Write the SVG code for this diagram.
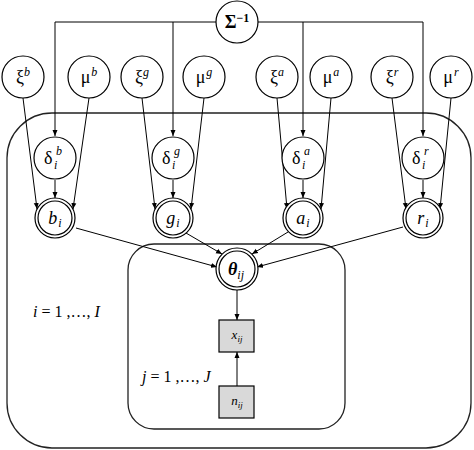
<svg xmlns="http://www.w3.org/2000/svg" width="474" height="450" viewBox="0 0 474 450" font-family="'Liberation Serif', 'DejaVu Serif', serif">
<style>
.c{fill:#fff;stroke:#000;stroke-width:1.2}
.p{fill:none;stroke:#222;stroke-width:1.3}
.l{fill:none;stroke:#000;stroke-width:1}
.b{fill:#d9d9d9;stroke:#000;stroke-width:1.2}
text{font-family:'Liberation Serif','DejaVu Serif',serif;fill:#000}
.g{font-size:18px}
.s{font-size:12px;font-style:italic}
.it{font-style:italic;font-size:18px}
</style>
<defs>
<marker id="a" markerUnits="userSpaceOnUse" markerWidth="6" markerHeight="6" refX="6" refY="3" orient="auto"><path d="M0,0.5 L6,3 L0,5.5 z" fill="#000"/></marker>
</defs>
<g id="plates">
<rect id="plate-i" class="p" x="7" y="113" width="464" height="335" rx="45" ry="45"/>
<rect id="plate-j" class="p" x="128" y="244" width="217" height="185" rx="26" ry="26"/>
<text x="33" y="317" font-size="16"><tspan font-style="italic">i</tspan> = 1 ,…, <tspan font-style="italic">I</tspan></text>
<text x="142" y="382" font-size="16"><tspan font-style="italic">j</tspan> = 1 ,…, <tspan font-style="italic">J</tspan></text>
</g>
<g id="connectors">
<path class="l" d="M55,22 H216 M258,22 H423"/>
<path class="l" marker-end="url(#a)" d="M55,22 V136"/>
<path class="l" marker-end="url(#a)" d="M173,22 V136"/>
<path class="l" marker-end="url(#a)" d="M303,22 V136"/>
<path class="l" marker-end="url(#a)" d="M423,22 V136"/>
<path class="l" marker-end="url(#a)" d="M23,98 L37,209"/>
<path class="l" marker-end="url(#a)" d="M89,98 L73,209"/>
<path class="l" marker-end="url(#a)" d="M142,98 L155,209"/>
<path class="l" marker-end="url(#a)" d="M204,98 L191,209"/>
<path class="l" marker-end="url(#a)" d="M277,98 L287,209"/>
<path class="l" marker-end="url(#a)" d="M331,98 L321,209"/>
<path class="l" marker-end="url(#a)" d="M392,98 L406,209"/>
<path class="l" marker-end="url(#a)" d="M451,98 L440,209"/>
<path class="l" marker-end="url(#a)" d="M55,180 V198"/>
<path class="l" marker-end="url(#a)" d="M173,180 V198"/>
<path class="l" marker-end="url(#a)" d="M303,180 V198"/>
<path class="l" marker-end="url(#a)" d="M423,180 V198"/>
<path class="l" marker-end="url(#a)" d="M76,228 L217,267"/>
<path class="l" marker-end="url(#a)" d="M186,233 L222,254"/>
<path class="l" marker-end="url(#a)" d="M288,232 L252,254"/>
<path class="l" marker-end="url(#a)" d="M403,227 L257,267"/>
<path class="l" marker-end="url(#a)" d="M237,290 V320"/>
<path class="l" marker-end="url(#a)" d="M237,386 V352"/>
</g>
<g id="Sigma"><circle class="c" cx="237" cy="22" r="21"/><text x="237" y="28" text-anchor="middle" font-weight="bold" font-size="18">Σ<tspan font-size="12" dy="-6">−1</tspan></text></g>
<g id="xi-b"><circle class="c" cx="23" cy="77" r="21"/><text x="23" y="83" text-anchor="middle" class="g">ξ<tspan class="s" dy="-7">b</tspan></text></g>
<g id="mu-b"><circle class="c" cx="89" cy="77" r="21"/><text x="89" y="83" text-anchor="middle" class="g">μ<tspan class="s" dx="1" dy="-7">b</tspan></text></g>
<g id="xi-g"><circle class="c" cx="142" cy="77" r="21"/><text x="142" y="83" text-anchor="middle" class="g">ξ<tspan class="s" dy="-7">g</tspan></text></g>
<g id="mu-g"><circle class="c" cx="204" cy="77" r="21"/><text x="204" y="83" text-anchor="middle" class="g">μ<tspan class="s" dx="1" dy="-7">g</tspan></text></g>
<g id="xi-a"><circle class="c" cx="277" cy="77" r="21"/><text x="277" y="83" text-anchor="middle" class="g">ξ<tspan class="s" dy="-7">a</tspan></text></g>
<g id="mu-a"><circle class="c" cx="331" cy="77" r="21"/><text x="331" y="83" text-anchor="middle" class="g">μ<tspan class="s" dx="1" dy="-7">a</tspan></text></g>
<g id="xi-r"><circle class="c" cx="392" cy="77" r="21"/><text x="392" y="83" text-anchor="middle" class="g">ξ<tspan class="s" dy="-7">r</tspan></text></g>
<g id="mu-r"><circle class="c" cx="451" cy="77" r="21"/><text x="451" y="83" text-anchor="middle" class="g">μ<tspan class="s" dx="1" dy="-7">r</tspan></text></g>
<g id="delta-b"><circle class="c" cx="55" cy="158" r="21"/><text x="44" y="164" class="g">δ</text><text x="54" y="169" class="s">i</text><text x="56" y="155" class="s">b</text></g>
<g id="delta-g"><circle class="c" cx="173" cy="158" r="21"/><text x="162" y="164" class="g">δ</text><text x="172" y="169" class="s">i</text><text x="174" y="155" class="s">g</text></g>
<g id="delta-a"><circle class="c" cx="303" cy="158" r="21"/><text x="292" y="164" class="g">δ</text><text x="302" y="169" class="s">i</text><text x="304" y="155" class="s">a</text></g>
<g id="delta-r"><circle class="c" cx="423" cy="158" r="21"/><text x="412" y="164" class="g">δ</text><text x="422" y="169" class="s">i</text><text x="424" y="155" class="s">r</text></g>
<g id="b-i"><circle class="c" cx="55" cy="218" r="20"/><circle class="c" cx="55" cy="218" r="17"/><text x="55" y="224" text-anchor="middle" class="it">b<tspan class="s" dx="1" dy="3">i</tspan></text></g>
<g id="g-i"><circle class="c" cx="173" cy="218" r="20"/><circle class="c" cx="173" cy="218" r="17"/><text x="173" y="224" text-anchor="middle" class="it">g<tspan class="s" dx="1" dy="3">i</tspan></text></g>
<g id="a-i"><circle class="c" cx="303" cy="218" r="20"/><circle class="c" cx="303" cy="218" r="17"/><text x="303" y="224" text-anchor="middle" class="it">a<tspan class="s" dx="1" dy="3">i</tspan></text></g>
<g id="r-i"><circle class="c" cx="423" cy="218" r="20"/><circle class="c" cx="423" cy="218" r="17"/><text x="423" y="224" text-anchor="middle" class="it">r<tspan class="s" dx="1" dy="3">i</tspan></text></g>
<g id="theta"><circle class="c" cx="237" cy="269" r="21"/><circle class="c" cx="237" cy="269" r="18"/><text x="236" y="275" text-anchor="middle" class="it" font-weight="bold">θ<tspan class="s" font-weight="normal" dy="4">ij</tspan></text></g>
<g id="x-ij"><rect class="b" x="219" y="320" width="35" height="32"/><text x="237" y="339" text-anchor="middle" font-size="13" font-style="italic">x<tspan font-size="9" dy="3">ij</tspan></text></g>
<g id="n-ij"><rect class="b" x="219" y="386" width="35" height="32"/><text x="237" y="405" text-anchor="middle" font-size="13" font-style="italic">n<tspan font-size="9" dy="3">ij</tspan></text></g>
</svg>
